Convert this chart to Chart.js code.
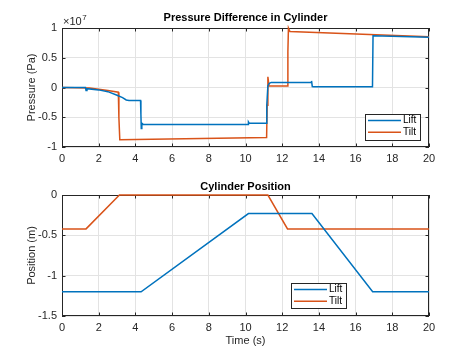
<!DOCTYPE html>
<html>
<head>
<meta charset="utf-8">
<script src="https://cdn.jsdelivr.net/npm/chart.js@4.4.1/dist/chart.umd.min.js"></script>
<style>
  html, body { margin:0; padding:0; background:#fff; }
  body { width:474px; height:355px; position:relative; overflow:hidden; }
  canvas { position:absolute; left:0; }
  #c1 { top:0; }
  #c2 { top:170px; }
</style>
</head>
<body>
<canvas id="c1" width="474" height="170"></canvas>
<canvas id="c2" width="474" height="185"></canvas>
<script>
// ---------- DATA ----------
const seriesNames = ['Lift', 'Tilt'];
const xTicks = [0, 2, 4, 6, 8, 10, 12, 14, 16, 18, 20];
const pressureTicks = [1, 0.5, 0, -0.5, -1];      // x 10^7 Pa
const positionTicks = [0, -0.5, -1, -1.5];        // m

// Pressure difference (units of 1e7 Pa)
const liftPressureTime = [0, 1.28, 1.31, 1.36, 2.0, 2.5, 3.0, 3.3, 3.5, 3.65, 4.28, 4.3, 4.32, 4.35, 4.42, 10.14, 10.16, 10.2, 11.12, 11.16, 11.22, 11.3, 11.4, 13.58, 13.6, 13.64, 13.7, 16.92, 16.95, 17.0, 20];
const liftPressure     = [0, 0, -0.05, -0.02, -0.04, -0.07, -0.13, -0.17, -0.21, -0.22, -0.22, -0.45, -0.69, -0.6, -0.62, -0.62, -0.58, -0.6, -0.6, -0.3, 0.03, 0.07, 0.085, 0.085, 0.11, 0.015, 0.012, 0.012, 0.87, 0.87, 0.845];
const tiltPressureTime = [0, 1.5, 2.0, 2.5, 3.07, 3.1, 3.15, 11.15, 11.18, 11.22, 11.28, 12.28, 12.31, 12.34, 12.42, 20];
const tiltPressure     = [0, -0.01, -0.03, -0.05, -0.08, -0.5, -0.88, -0.84, -0.3, 0.18, 0.025, 0.025, 0.6, 1.0, 0.94, 0.855];

// Cylinder position (m)
const liftPositionTime = [0, 4.31, 10.16, 13.62, 16.93, 20];
const liftPosition     = [-1.2, -1.2, -0.23, -0.23, -1.2, -1.2];
const tiltPositionTime = [0, 1.31, 3.13, 11.22, 12.29, 20];
const tiltPosition     = [-0.42, -0.42, 0, 0, -0.42, -0.42];

// ---------- STYLE ----------
const BLUE = '#0072BD', ORANGE = '#D95319';
const AX = '#262626', GRID = '#e3e3e3';
const FONT = '"Liberation Sans", Arial, Helvetica, sans-serif';

function pts(t, v) { return t.map((x, i) => ({x: x, y: v[i]})); }

const frame = {
  id: 'frame',
  beforeDatasetsDraw(chart, args, opts) {
    const {ctx, chartArea: a} = chart;
    const xs = chart.scales.x, ys = chart.scales.y;
    ctx.save();
    ctx.strokeStyle = AX; ctx.lineWidth = 1;
    ctx.strokeRect(Math.round(a.left) + 0.5, Math.round(a.top) + 0.5,
                   Math.round(a.right - a.left) - 1, Math.round(a.bottom - a.top) - 1);
    // inward ticks
    ctx.beginPath();
    xs.ticks.forEach(t => {
      const px = Math.round(xs.getPixelForValue(t.value)) + 0.5;
      ctx.moveTo(px, a.bottom); ctx.lineTo(px, a.bottom - 3.5);
      ctx.moveTo(px, a.top); ctx.lineTo(px, a.top + 3.5);
    });
    ys.ticks.forEach(t => {
      const py = Math.round(ys.getPixelForValue(t.value)) + 0.5;
      ctx.moveTo(a.left, py); ctx.lineTo(a.left + 3.5, py);
      ctx.moveTo(a.right, py); ctx.lineTo(a.right - 3.5, py);
    });
    ctx.stroke();
    // title centred over the plot area
    ctx.fillStyle = '#000'; ctx.textAlign = 'center'; ctx.textBaseline = 'middle';
    ctx.font = 'bold 11px ' + FONT;
    ctx.fillText(opts.title, (a.left + a.right) / 2, a.top - opts.titleGap);
    // exponent label
    if (opts.exponent) {
      ctx.fillStyle = AX; ctx.textBaseline = 'alphabetic'; ctx.textAlign = 'left';
      ctx.font = '11px ' + FONT;
      ctx.fillText('\u00d710', a.left + 1, a.top - 3.5);
      const w = ctx.measureText('\u00d710').width;
      ctx.font = '8px ' + FONT;
      ctx.fillText(opts.exponent, a.left + 1 + w + 0.5, a.top - 8);
    }
    ctx.restore();
  },
  afterDatasetsDraw(chart, args, opts) {
    const {ctx} = chart;
    const L = opts.legend;
    ctx.save();
    ctx.fillStyle = '#fff';
    ctx.fillRect(L.x, L.y, L.w, L.h);
    ctx.strokeStyle = AX; ctx.lineWidth = 1;
    ctx.strokeRect(L.x + 0.5, L.y + 0.5, L.w - 1, L.h - 1);
    ctx.font = '10px ' + FONT; ctx.textBaseline = 'middle'; ctx.textAlign = 'left';
    chart.data.datasets.forEach((ds, i) => {
      const y = L.y + 6.5 + i * 11.7;
      ctx.strokeStyle = ds.borderColor; ctx.lineWidth = 1.5;
      ctx.beginPath(); ctx.moveTo(L.x + 3, y); ctx.lineTo(L.x + 36, y); ctx.stroke();
      ctx.fillStyle = '#000';
      ctx.fillText(ds.label, L.x + 38, y);
    });
    ctx.restore();
  }
};

function makeChart(id, datasets, yMin, yMax, yTicks, opt) {
  return new Chart(document.getElementById(id), {
    type: 'scatter',
    data: { datasets: datasets },
    plugins: [frame],
    options: {
      responsive: false, animation: false, devicePixelRatio: 1,
      layout: { padding: { left: 0, right: 45, top: opt.top, bottom: 0 } },
      elements: { point: { radius: 0 }, line: { borderWidth: 1.5, tension: 0 } },
      plugins: {
        legend: { display: false },
        tooltip: { enabled: false },
        title: { display: false },
        frame: { exponent: opt.exponent, legend: opt.legend, title: opt.title, titleGap: opt.titleGap }
      },
      scales: {
        x: {
          type: 'linear', min: 0, max: 20,
          afterBuildTicks: s => { s.ticks = xTicks.map(v => ({value: v})); },
          afterFit: s => { s.height = opt.xHeight; },
          grid: { color: GRID, drawTicks: false },
          border: { display: false },
          ticks: { color: AX, font: { family: FONT, size: 11 }, padding: 5, maxRotation: 0,
                   callback: v => String(v) },
          title: opt.xTitle ? { display: true, text: opt.xTitle, color: AX,
                   font: { family: FONT, size: 11 }, padding: { top: 0, bottom: 7.5 } } : { display: false }
        },
        y: {
          type: 'linear', min: yMin, max: yMax,
          afterBuildTicks: s => { s.ticks = yTicks.map(v => ({value: v})); },
          afterFit: s => { s.width = 62; },
          grid: { color: GRID, drawTicks: false },
          border: { display: false },
          ticks: { color: AX, font: { family: FONT, size: 11 }, padding: 5,
                   callback: v => String(v) },
          title: { display: true, text: opt.yTitle, color: AX,
                   font: { family: FONT, size: 11 }, padding: { top: 25, bottom: 0 } }
        }
      }
    }
  });
}

makeChart('c1', [
  { label: seriesNames[0], data: pts(liftPressureTime, liftPressure), borderColor: BLUE, showLine: true, clip: 3 },
  { label: seriesNames[1], data: pts(tiltPressureTime, tiltPressure), borderColor: ORANGE, showLine: true, clip: 3 }
], -1, 1, pressureTicks, {
  title: 'Pressure Difference in Cylinder', titleGap: 10, top: 28,
  exponent: '7', yTitle: 'Pressure (Pa)', xHeight: 23,
  legend: { x: 365, y: 114, w: 56, h: 27 }
});

makeChart('c2', [
  { label: seriesNames[0], data: pts(liftPositionTime, liftPosition), borderColor: BLUE, showLine: true, clip: 3 },
  { label: seriesNames[1], data: pts(tiltPositionTime, tiltPosition), borderColor: ORANGE, showLine: true, clip: 3 }
], -1.5, 0, positionTicks, {
  title: 'Cylinder Position', titleGap: 8, top: 25,
  yTitle: 'Position (m)', xTitle: 'Time (s)', xHeight: 39,
  legend: { x: 291, y: 113, w: 56, h: 26 }
});
</script>
</body>
</html>
